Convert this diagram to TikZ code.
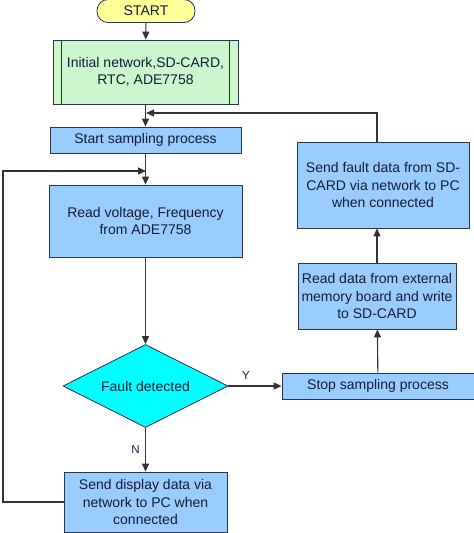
\documentclass[tikz,border=0pt]{standalone}
\usepackage{fontspec}
\setmainfont{Liberation Sans}
\usepackage{tikz}
\usetikzlibrary{positioning,calc}
\usetikzlibrary{shapes.geometric,arrows.meta}

\definecolor{boxblue}{HTML}{99CCFF}
\definecolor{boxline}{HTML}{263650}
\definecolor{initgreen}{HTML}{CCF7CC}
\definecolor{startyellow}{HTML}{FFFF99}
\definecolor{faultcyan}{HTML}{00FFFF}
\definecolor{txtnavy}{HTML}{141C38}

\begin{document}
\begin{tikzpicture}[x=1pt, y=-1pt,
  every node/.style={font=\fontsize{14}{17.5}\selectfont, text=txtnavy},
  stepbox/.style={draw=boxline, fill=boxblue, thick, align=center, inner sep=0pt},
  decision/.style={draw=boxline, fill=faultcyan, thick, shape=diamond, aspect=2, inner sep=0pt},
  flow/.style={line width=1.1pt, -{Triangle[length=8pt, width=7pt]}, draw=black!80},
  lbl/.style={font=\fontsize{11.5}{13}\selectfont}]
\useasboundingbox (0, 0) rectangle (474, 533);

\path (146, 11) node[draw=boxline, fill=startyellow, thick, rounded corners=11pt, minimum width=98pt, minimum height=23pt, inner sep=0pt] (start) {START};

\path (145.5, 72) node[stepbox, fill=initgreen, minimum width=185pt, minimum height=64pt] (init) {Initial network,SD-CARD,\\RTC, ADE7758};
\draw[boxline, thick] ($(init.north west)+(9, 0)$) -- ($(init.south west)+(9, 0)$);
\draw[boxline, thick] ($(init.north east)+(-9, 0)$) -- ($(init.south east)+(-9, 0)$);

\path (145.5, 140) node[stepbox, minimum width=191pt, minimum height=26pt] (sample) {Start sampling process};

\path (145.5, 221) node[stepbox, minimum width=193pt, minimum height=72pt] (readv) {Read voltage, Frequency\\from ADE7758};

\path (145.5, 386) node[decision, minimum width=165pt, minimum height=83pt] (fault) {Fault detected};

\path (145.5, 502) node[stepbox, minimum width=163pt, minimum height=60pt] (display) {Send display data via\\network to PC when\\connected};

\path (378, 386) node[stepbox, minimum width=192pt, minimum height=26pt] (stop) {Stop sampling process};

\path (377, 296) node[stepbox, minimum width=158pt, minimum height=66pt] (readd) {Read data from external\\memory board and write\\to SD-CARD};

\path (383, 185) node[stepbox, minimum width=172pt, minimum height=86pt] (sendf) {Send fault data from SD-\\CARD via network to PC\\when connected};

% joints of the loops
\coordinate (joinR) at (146, 113);
\coordinate (joinL) at (146, 171);
\coordinate (loopL) at (3, 171);

\draw[flow] (start) -- (init);
\draw[flow] (init) -- (sample);
\draw[flow] (sample) -- (readv);
\draw[flow] (readv) -- (fault);
\draw[flow] (fault) -- node[lbl, left=2pt] {N} (display);
\draw[flow] (fault) -- node[lbl, above=3pt, pos=0.33] {Y} (stop);
\draw[flow] (stop) -- (readd);
\draw[flow] (readd.north) -- (readd.north |- sendf.south);
\draw[flow] (readd.north |- sendf.north) |- (joinR);
\draw[flow] (display.west) -| (loopL) -- (joinL);
\end{tikzpicture}
\end{document}
